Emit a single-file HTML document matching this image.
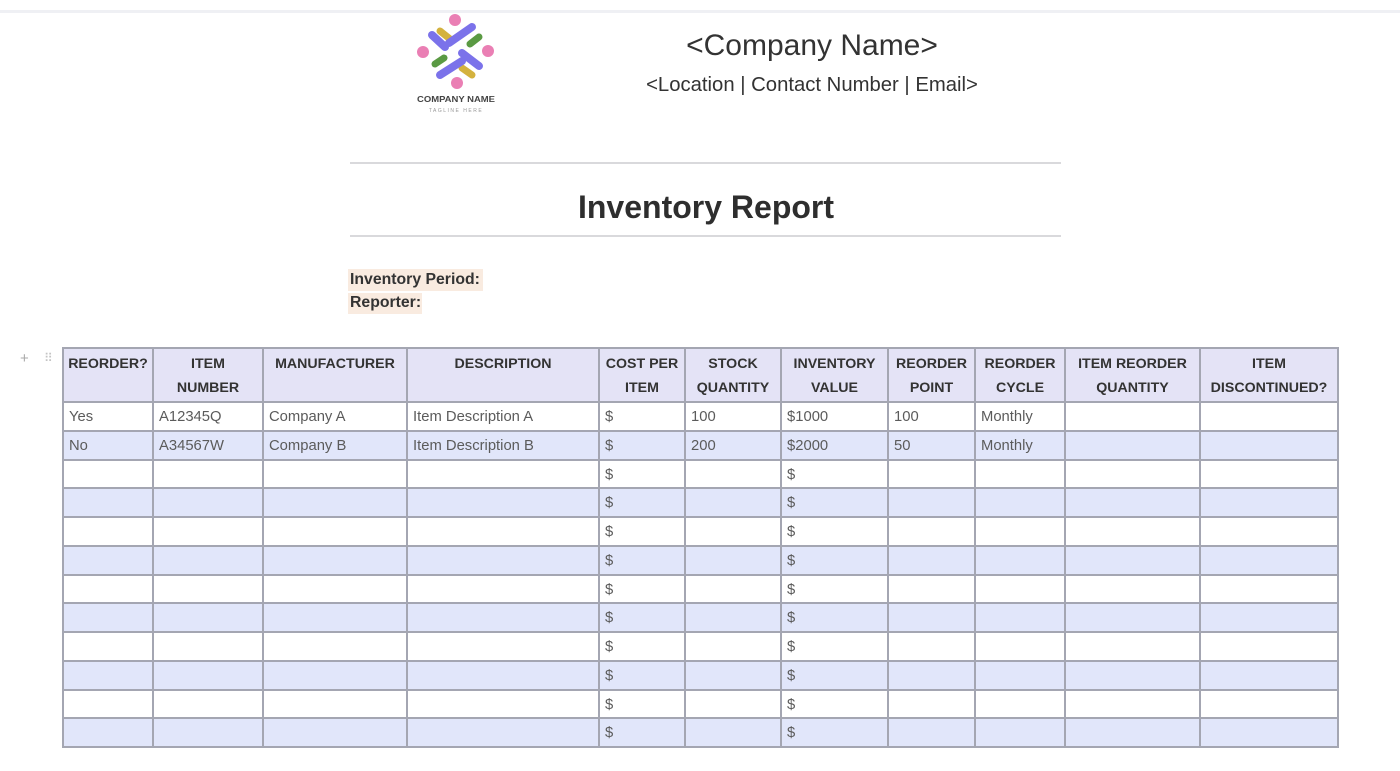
<!DOCTYPE html>
<html><head><meta charset="utf-8">
<style>
html,body{margin:0;padding:0;background:#fff;}
body{width:1400px;height:771px;position:relative;overflow:hidden;font-family:"Liberation Sans",Arial,sans-serif;}
.topline{position:absolute;left:0;top:10px;width:1400px;height:3px;background:#eff0f4;}
.abs{position:absolute;}
.hr{position:absolute;left:350px;width:711px;height:2px;background:#d9d9dc;}
.grid{position:absolute;left:62px;top:347px;width:1275px;display:grid;
 grid-template-columns:90px 110px 144px 192px 86px 96px 107px 87px 90px 135px 138px;
 grid-template-rows:54px repeat(12,28.75px);
 border-left:2px solid #a4a6b2;border-top:2px solid #a4a6b2;}
.grid div{box-sizing:border-box;border-right:2px solid #a4a6b2;border-bottom:2px solid #a4a6b2;
 font-size:14.8px;color:#5b5b5b;padding-left:5px;line-height:28px;white-space:nowrap;overflow:hidden;}
.grid div.h{background:#e4e3f6;color:#333;font-weight:bold;text-align:center;padding:4px 0 0 0;line-height:23.5px;white-space:normal;font-size:14.2px;}
.grid div.s{background:#e1e6fa;}
</style></head><body>
<div class="topline"></div>

<svg class="abs" style="left:405px;top:10px" width="100" height="110" viewBox="0 0 100 110">
 <g stroke-linecap="round" fill="none">
  <line x1="35" y1="21" x2="45" y2="29" stroke="#d4b23e" stroke-width="7"/>
  <line x1="57" y1="58" x2="67" y2="65" stroke="#d4b23e" stroke-width="7"/>
  <line x1="65" y1="34" x2="74" y2="27" stroke="#5a9a43" stroke-width="7"/>
  <line x1="30" y1="54" x2="39" y2="48" stroke="#5a9a43" stroke-width="7"/>
  <polyline points="27,25 40,37" stroke="#7b72ea" stroke-width="8"/>
  <polyline points="67,17 44,33" stroke="#7b72ea" stroke-width="8"/>
  <polyline points="35,65 57,51" stroke="#7b72ea" stroke-width="8"/>
  <polyline points="57,43 74,56" stroke="#7b72ea" stroke-width="8"/>
 </g>
 <circle cx="50" cy="10" r="6" fill="#ea7fb4"/>
 <circle cx="18" cy="42" r="6" fill="#ea7fb4"/>
 <circle cx="83" cy="41" r="6" fill="#ea7fb4"/>
 <circle cx="52" cy="73" r="6" fill="#ea7fb4"/>
 <text x="51" y="92" text-anchor="middle" font-family="Liberation Sans,Arial,sans-serif" font-weight="bold" font-size="8.5" fill="#444" textLength="78" lengthAdjust="spacingAndGlyphs">COMPANY NAME</text>
 <text x="51" y="102" text-anchor="middle" font-family="Liberation Sans,Arial,sans-serif" font-size="5" fill="#999" letter-spacing="1.5">TAGLINE HERE</text>
</svg>

<div class="abs" style="left:562px;top:27px;width:500px;text-align:center;font-size:30px;color:#333;line-height:38px;">&lt;Company Name&gt;</div>
<div class="abs" style="left:512px;top:72px;width:600px;text-align:center;font-size:20.3px;color:#333;line-height:26px;">&lt;Location | Contact Number | Email&gt;</div>

<div class="hr" style="top:162px"></div>
<div class="abs" style="left:406px;top:186px;width:600px;text-align:center;font-size:32px;font-weight:bold;color:#2e2e2e;line-height:42px;">Inventory Report</div>
<div class="hr" style="top:235px"></div>

<div class="abs" style="left:348px;top:269px;height:22px;width:135px;background:#f9ebe0;"></div>
<div class="abs" style="left:348px;top:293px;height:21px;width:74px;background:#f9ebe0;"></div>
<div class="abs" style="left:350px;top:270px;font-size:15.8px;font-weight:bold;color:#333;line-height:20px;">Inventory Period:</div>
<div class="abs" style="left:350px;top:293px;font-size:15.8px;font-weight:bold;color:#333;line-height:20px;">Reporter:</div>

<div class="abs" style="left:20px;top:350px;font-size:15px;color:#aaa;">+</div>
<div class="abs" style="left:44px;top:351px;font-size:12px;color:#c4c4c4;">⠿</div>

<div class="grid">
 <div class="h">REORDER?</div><div class="h">ITEM<br>NUMBER</div><div class="h">MANUFACTURER</div><div class="h">DESCRIPTION</div><div class="h">COST PER<br>ITEM</div><div class="h">STOCK<br>QUANTITY</div><div class="h">INVENTORY<br>VALUE</div><div class="h">REORDER<br>POINT</div><div class="h">REORDER<br>CYCLE</div><div class="h">ITEM REORDER<br>QUANTITY</div><div class="h">ITEM<br>DISCONTINUED?</div>

 <div>Yes</div><div>A12345Q</div><div>Company A</div><div>Item Description A</div><div>$</div><div>100</div><div>$1000</div><div>100</div><div>Monthly</div><div></div><div></div>
 <div class="s">No</div><div class="s">A34567W</div><div class="s">Company B</div><div class="s">Item Description B</div><div class="s">$</div><div class="s">200</div><div class="s">$2000</div><div class="s">50</div><div class="s">Monthly</div><div class="s"></div><div class="s"></div>

 <div></div><div></div><div></div><div></div><div>$</div><div></div><div>$</div><div></div><div></div><div></div><div></div>
 <div class="s"></div><div class="s"></div><div class="s"></div><div class="s"></div><div class="s">$</div><div class="s"></div><div class="s">$</div><div class="s"></div><div class="s"></div><div class="s"></div><div class="s"></div>
 <div></div><div></div><div></div><div></div><div>$</div><div></div><div>$</div><div></div><div></div><div></div><div></div>
 <div class="s"></div><div class="s"></div><div class="s"></div><div class="s"></div><div class="s">$</div><div class="s"></div><div class="s">$</div><div class="s"></div><div class="s"></div><div class="s"></div><div class="s"></div>
 <div></div><div></div><div></div><div></div><div>$</div><div></div><div>$</div><div></div><div></div><div></div><div></div>
 <div class="s"></div><div class="s"></div><div class="s"></div><div class="s"></div><div class="s">$</div><div class="s"></div><div class="s">$</div><div class="s"></div><div class="s"></div><div class="s"></div><div class="s"></div>
 <div></div><div></div><div></div><div></div><div>$</div><div></div><div>$</div><div></div><div></div><div></div><div></div>
 <div class="s"></div><div class="s"></div><div class="s"></div><div class="s"></div><div class="s">$</div><div class="s"></div><div class="s">$</div><div class="s"></div><div class="s"></div><div class="s"></div><div class="s"></div>
 <div></div><div></div><div></div><div></div><div>$</div><div></div><div>$</div><div></div><div></div><div></div><div></div>
 <div class="s"></div><div class="s"></div><div class="s"></div><div class="s"></div><div class="s">$</div><div class="s"></div><div class="s">$</div><div class="s"></div><div class="s"></div><div class="s"></div><div class="s"></div>
</div>
</body></html>
